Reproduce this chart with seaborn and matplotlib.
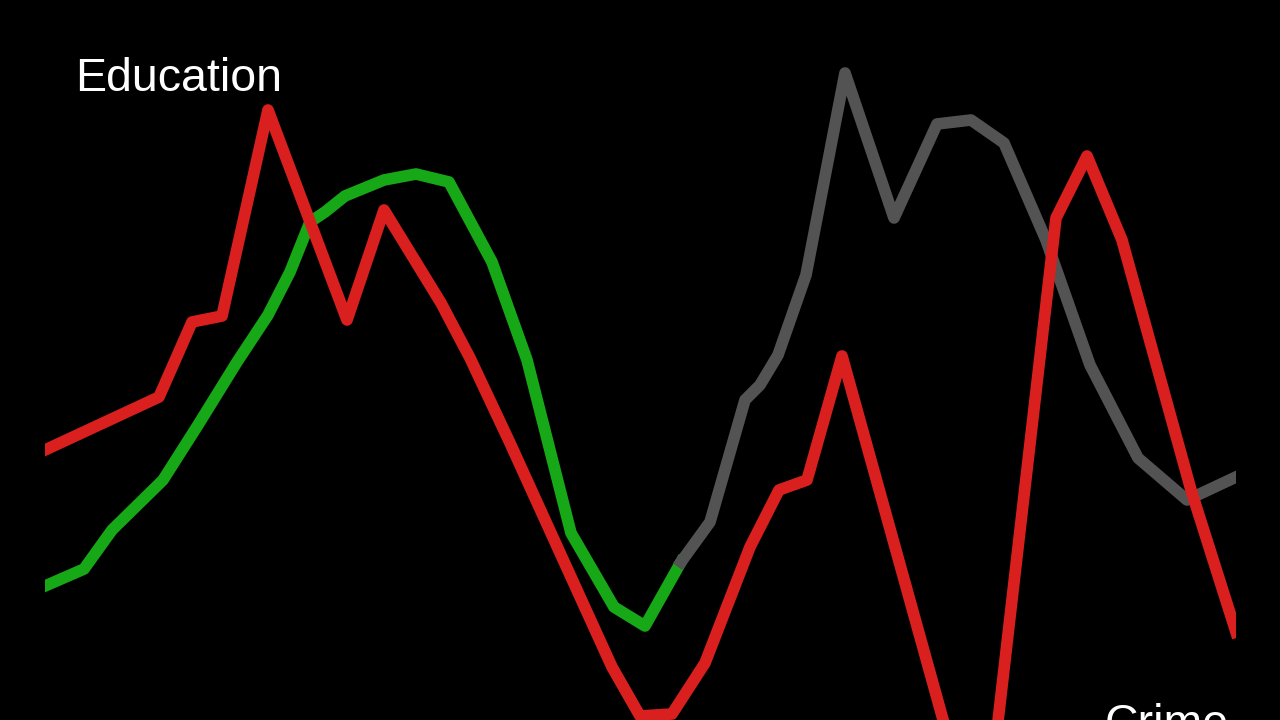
import matplotlib
matplotlib.use("Agg")
import matplotlib.pyplot as plt
import seaborn as sns
import pandas as pd

# ---- data (period index, level) ----
red_t = [45, 159, 192, 222, 268, 347, 384, 441, 470, 510, 571, 612, 640, 672, 705, 750, 779, 807, 842, 982, 1056, 1087, 1122, 1191, 1236]
red_v = [270, 323, 398, 404, 610, 400, 510, 417, 362, 277, 143, 53, 4, 6, 57, 173, 230, 240, 364, -140, 502, 564, 480, 230, 88]

green_t = [45, 84, 112, 163, 198, 237, 268, 290, 310, 325, 345, 384, 416, 449, 492, 527, 571, 614, 645, 681]
green_v = [134, 151, 190, 240, 295, 358, 405, 448, 498, 508, 524, 540, 546, 538, 458, 360, 187, 113, 94, 158]

gray_t = [681, 710, 745, 760, 778, 806, 845, 894, 937, 971, 1004, 1046, 1090, 1138, 1187, 1236]
gray_v = [158, 198, 320, 335, 365, 445, 647, 502, 596, 600, 577, 480, 355, 262, 220, 243]

label_top = "Education"
label_bottom = "Crime"

red_df = pd.DataFrame({"t": red_t, "v": red_v})
green_df = pd.DataFrame({"t": green_t, "v": green_v})
gray_df = pd.DataFrame({"t": gray_t, "v": gray_v})

sns.set_theme(style="dark")
plt.rcParams["font.family"] = ["Liberation Sans", "DejaVu Sans"]

fig = plt.figure(figsize=(12.8, 7.2), dpi=100, facecolor="black")
ax = fig.add_axes([45 / 1280, 0, (1236 - 45) / 1280, 1])
ax.set_facecolor("black")

lw = 8.4
kw = dict(solid_capstyle="projecting", solid_joinstyle="round", sort=False, estimator=None)
sns.lineplot(data=green_df, x="t", y="v", color="#17a817", linewidth=lw, ax=ax, zorder=2, **kw)
sns.lineplot(data=gray_df, x="t", y="v", color="#535353", linewidth=lw, ax=ax, zorder=3, **kw)
sns.lineplot(data=red_df, x="t", y="v", color="#d9201f", linewidth=lw, ax=ax, zorder=4, **kw)

ax.set_xlim(45, 1236)
ax.set_ylim(0, 720)
ax.set_axis_off()

fig.text(75 / 1280, (720 - 91) / 720, label_top, color="white", fontsize=33.5,
         ha="left", va="baseline")
fig.text(1105 / 1280, (720 - 737) / 720, label_bottom, color="white", fontsize=33.5,
         ha="left", va="baseline")

fig.savefig("out.png", dpi=100, facecolor="black")
